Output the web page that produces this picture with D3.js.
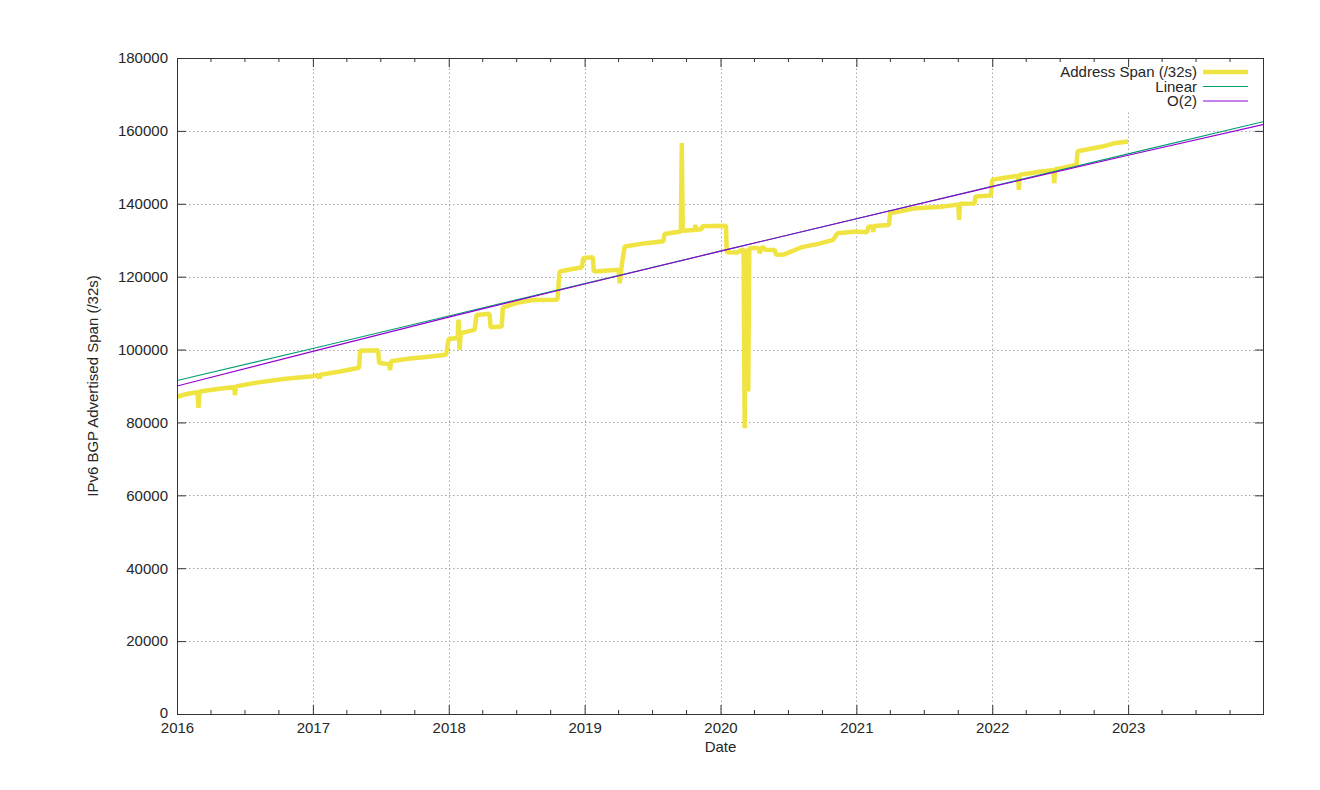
<!DOCTYPE html>
<html>
<head>
<meta charset="utf-8">
<script src="https://cdn.jsdelivr.net/npm/d3@7"></script>
<style>
html,body{margin:0;padding:0;background:#fff;}
svg text{font-family:"Liberation Sans",Arial,sans-serif;fill:#262626;}
</style>
</head>
<body>
<svg id="chart" width="1320" height="790"></svg>
<script>
// ---- data (decimal years) ----
const spanYears = [
 2016.00,2016.07,2016.15,2016.158,2016.166,2016.30,2016.42,2016.426,2016.434,2016.60,2016.80,
 2017.00,2017.04,2017.048,2017.056,2017.20,2017.34,2017.348,2017.48,2017.488,2017.56,2017.568,2017.576,2017.70,2017.85,2017.98,
 2018.00,2018.065,2018.072,2018.08,2018.088,2018.19,2018.205,2018.30,2018.308,2018.39,2018.398,2018.50,2018.62,2018.80,2018.815,2018.98,
 2018.99,2019.06,2019.068,2019.25,2019.258,2019.275,2019.295,2019.45,2019.58,2019.588,2019.708,2019.715,2019.722,2019.81,2019.815,2019.822,2019.86,2019.868,2020.04,
 2020.046,2020.12,2020.17,2020.178,2020.186,2020.204,2020.212,2020.28,2020.288,2020.31,2020.33,2020.40,2020.408,2020.47,2020.52,2020.60,2020.72,2020.83,2020.86,
 2021.00,2021.08,2021.088,2021.118,2021.124,2021.13,2021.24,2021.248,2021.44,2021.61,2021.73,2021.75,2021.756,2021.762,2021.87,2021.876,2021.99,
 2022.00,2022.15,2022.19,2022.196,2022.202,2022.28,2022.37,2022.45,2022.456,2022.462,2022.52,2022.62,2022.628,2022.81,2022.91,2023.00
];
const spanValues = [
 87000,87800,88300,84000,88500,89200,89700,87500,89900,91000,92000,
 92700,93000,92000,93100,94000,95000,99700,99800,96300,96000,94400,96800,97500,98000,98600,
 102900,103200,108200,99900,104500,105400,109500,109800,106100,106300,111500,112800,113600,113700,121400,122600,
 125100,125300,121400,121900,118200,123700,128300,129200,129700,131700,132400,156700,132600,132800,134200,132900,133000,133800,134000,
 126700,126600,127500,78400,127700,88500,127800,127900,126500,128200,127400,127300,126000,126100,126900,128100,129000,130100,131900,
 132400,132200,133700,133800,132300,133900,134200,137400,138800,139100,139700,139800,135600,140000,140100,142000,142300,
 146600,147500,147600,143800,148000,148400,148900,149200,145700,149500,149800,150700,154400,155700,156700,157100
];
const fitYears   = [2016,2017,2018,2019,2020,2021,2022,2023,2024];
const linearVals = [91500,100300,109200,118100,127000,135900,144800,153700,162600];
const quadVals   = [90000,99500,108900,118000,127000,135900,144700,153300,161800];

const yearTicks  = [2016,2017,2018,2019,2020,2021,2022,2023];
const valueTicks = [0,20000,40000,60000,80000,100000,120000,140000,160000,180000];
const legendLabels = ["Address Span (/32s)","Linear","O(2)"];
const seriesColors = ["#f0e442","#009e73","#9400d3"];

// ---- layout ----
const L = 177, R = 1264, T = 58, B = 714;
const FS = "15px";
const svg = d3.select("#chart");
const x = d3.scaleLinear().domain([2016, 2024]).range([L, R]);
const y = d3.scaleLinear().domain([0, 180000]).range([B, T]);

// grid
const grid = svg.append("g").attr("stroke", "#a8a8a8").attr("stroke-width", 1)
  .attr("stroke-dasharray", "1.5,2.5");
grid.selectAll(".gx").data(yearTicks.slice(1)).join("line")
  .attr("x1", d => Math.round(x(d)) + 0.5).attr("x2", d => Math.round(x(d)) + 0.5)
  .attr("y1", B).attr("y2", T);
grid.selectAll(".gy").data(valueTicks.slice(1, -1)).join("line")
  .attr("y1", d => Math.round(y(d)) + 0.5).attr("y2", d => Math.round(y(d)) + 0.5)
  .attr("x1", L).attr("x2", R);

// legend background (opaque key)
svg.append("rect").attr("x", 1050).attr("y", T + 1).attr("width", R - 1051).attr("height", 53).attr("fill", "#fff");

// series
svg.append("clipPath").attr("id", "clip").append("rect")
  .attr("x", L).attr("y", T).attr("width", R - L).attr("height", B - T);
const line = d3.line().x(d => x(d[0])).y(d => y(d[1]));
const plot = svg.append("g").attr("clip-path", "url(#clip)");
plot.append("path").datum(spanYears.map((d, i) => [d, spanValues[i]]))
  .attr("d", line).attr("fill", "none").attr("stroke", seriesColors[0])
  .attr("stroke-width", 4.5).attr("stroke-linejoin", "bevel").attr("stroke-linecap", "butt");
plot.append("path").datum(fitYears.map((d, i) => [d, linearVals[i]]))
  .attr("d", line).attr("fill", "none").attr("stroke", seriesColors[1]).attr("stroke-width", 1.1);
plot.append("path").datum(fitYears.map((d, i) => [d, quadVals[i]]))
  .attr("d", line).attr("fill", "none").attr("stroke", seriesColors[2]).attr("stroke-width", 1.1);

// axes with inward ticks (gnuplot style)
const axisCol = "#333";
const minorYears = d3.range(2016, 2024.001, 0.25).filter(v => Math.abs(v - Math.round(v)) > 0.01);
const xb = svg.append("g").attr("transform", `translate(0,${B})`)
  .call(d3.axisBottom(x).tickValues(yearTicks).tickFormat(d3.format("d")).tickSizeInner(-9).tickSizeOuter(0).tickPadding(8));
xb.select(".domain").remove();
xb.selectAll("line").attr("stroke", axisCol);
xb.selectAll("text").attr("font-size", FS).attr("fill", "#262626");
const xt = svg.append("g").attr("transform", `translate(0,${T})`)
  .call(d3.axisTop(x).tickValues(yearTicks).tickFormat("").tickSizeInner(-9).tickSizeOuter(0));
xt.select(".domain").remove();
xt.selectAll("line").attr("stroke", axisCol);
svg.append("g").selectAll("line").data(minorYears).join("line")
  .attr("x1", d => x(d)).attr("x2", d => x(d)).attr("y1", B).attr("y2", B - 4).attr("stroke", axisCol);
svg.append("g").selectAll("line").data(minorYears).join("line")
  .attr("x1", d => x(d)).attr("x2", d => x(d)).attr("y1", T).attr("y2", T + 4).attr("stroke", axisCol);

const yl = svg.append("g").attr("transform", `translate(${L},0)`)
  .call(d3.axisLeft(y).tickValues(valueTicks).tickFormat(d3.format("d")).tickSizeInner(-9).tickSizeOuter(0).tickPadding(9));
yl.select(".domain").remove();
yl.selectAll("line").attr("stroke", axisCol);
yl.selectAll("text").attr("font-size", FS).attr("fill", "#262626");
yl.selectAll("text").filter(d => d === 0).attr("dy", "0.2em");
const yr = svg.append("g").attr("transform", `translate(${R},0)`)
  .call(d3.axisRight(y).tickValues(valueTicks).tickFormat("").tickSizeInner(-9).tickSizeOuter(0));
yr.select(".domain").remove();
yr.selectAll("line").attr("stroke", axisCol);

// border
svg.append("rect").attr("x", L + 0.5).attr("y", T + 0.5).attr("width", R - L - 1).attr("height", B - T)
  .attr("fill", "none").attr("stroke", axisCol).attr("stroke-width", 1);

// axis titles
svg.append("text").attr("x", (L + R) / 2).attr("y", 752).attr("text-anchor", "middle")
  .attr("font-size", FS).text("Date");
svg.append("text").attr("transform", `translate(98,${(T + B) / 2}) rotate(-90)`).attr("text-anchor", "middle")
  .attr("font-size", FS).text("IPv6 BGP Advertised Span (/32s)");

// legend
const legY = [72, 86.5, 101];
const widths = [4.5, 1.1, 1.1];
legendLabels.forEach((lab, i) => {
  svg.append("text").attr("x", 1197).attr("y", legY[i]).attr("dy", "0.35em")
    .attr("text-anchor", "end").attr("font-size", FS).text(lab);
  svg.append("line").attr("x1", 1203).attr("x2", 1248).attr("y1", legY[i]).attr("y2", legY[i])
    .attr("stroke", seriesColors[i]).attr("stroke-width", widths[i]);
});
</script>
</body>
</html>
